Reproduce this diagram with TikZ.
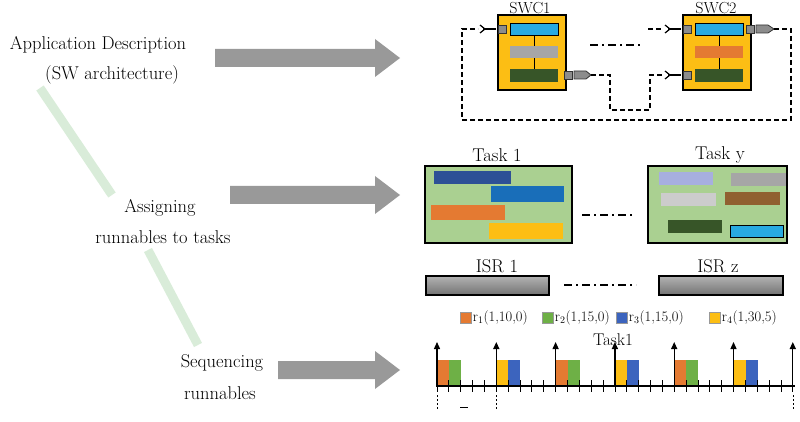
\documentclass[tikz,border=0pt]{standalone}
\usepackage{fontspec}
\setmainfont{Latin Modern Roman}
\usetikzlibrary{arrows.meta}
\definecolor{tgreen}{RGB}{170,208,145}
\definecolor{cor}{RGB}{228,122,50}
\definecolor{cgr}{RGB}{110,176,70}
\definecolor{cbl}{RGB}{60,100,190}
\definecolor{cye}{RGB}{252,190,20}
\definecolor{ccy}{RGB}{40,170,225}
\definecolor{cdg}{RGB}{55,85,40}
\definecolor{cdb}{RGB}{45,80,150}
\definecolor{cmb}{RGB}{25,110,185}
\begin{document}
\begin{tikzpicture}[x=1pt,y=-1pt,
 txt/.style={font=\fontsize{18.5}{20}\selectfont,inner sep=0pt},
 bigarrow/.style={fill=black!40,draw=none},
 dd/.style={line width=1.6pt,dash pattern=on 8pt off 4pt on 2pt off 4pt},
 wire/.style={line width=1.3pt,dash pattern=on 5pt off 3pt},
 port/.style={draw=black!80,fill=black!45,line width=0.8pt,minimum size=8pt,inner sep=0pt},
 lg/.style={minimum size=11pt,inner sep=0pt,draw=black!40},
 tl/.style={font=\fontsize{14.5}{16}\selectfont,inner sep=1pt,anchor=west}]
\useasboundingbox (0,0) rectangle (800,422);
% green diagonal
\draw[green!50!black,opacity=0.15,line width=9pt] (40,88) -- (112,195);
\draw[green!50!black,opacity=0.15,line width=9pt] (148,250) -- (198,345);
% text
\node[txt] (t1) at (98,45) {Application Description};
\node[txt] (t2) at (112,75) {(SW architecture)};
\node[txt] (t3) at (160,208) {Assigning};
\node[txt] (t4) at (163,237) {runnables to tasks};
\node[txt] (t5) at (222,363) {Sequencing};
\node[txt] (t6) at (220,393) {runnables};
% big arrows
\foreach \xa/\ya in {215/58,230/195,278/370}{
 \fill[bigarrow] (\xa,\ya-9) -- (375,\ya-9) -- (375,\ya-19) -- (400,\ya) -- (375,\ya+19) -- (375,\ya+9) -- (\xa,\ya+9) -- cycle;}
% ---------- SWCs
\node[txt,font=\fontsize{16}{17}\selectfont] (s1) at (530,8) {SWC1};
\node[txt,font=\fontsize{16}{17}\selectfont] (s2) at (716,8) {SWC2};
\foreach \ox/\mid in {498/black!35,683/cor}{
 \draw[line width=1.2pt,fill=cye] (\ox,15) rectangle (\ox+68,90);
 \draw[line width=0.8pt] (\ox+36,29) -- (\ox+36,75);
 \fill[ccy, draw=black,line width=0.8pt] (\ox+12,23) rectangle (\ox+60,35);
 \fill[\mid] (\ox+12,46) rectangle (\ox+60,58);
 \fill[cdg] (\ox+12,69) rectangle (\ox+60,82);
}
\node[port] (p1) at (502,29) {};
\node[port] (p2) at (568,75) {};
\node[port] (p3) at (687,29) {};
\node[port] (p4) at (687,75) {};
\node[port] (p5) at (750,29) {};
\draw[fill=black!45,draw=black!80,line width=0.8pt] (574,71) -- (586,71) -- (591,75) -- (586,79) -- (574,79) -- cycle;
\draw[fill=black!45,draw=black!80,line width=0.8pt] (756,25) -- (768,25) -- (774,29) -- (768,33) -- (756,33) -- cycle;
\coordinate (o1) at (591,75);
\coordinate (o2) at (774,29);
% chevrons
\foreach \cx/\cy in {480/29,665/29,665/75}{
 \draw[line width=1.2pt] (\cx,\cy-4) -- (\cx+5,\cy) -- (\cx,\cy+4);
 \draw[line width=1.2pt] (\cx+3,\cy) -- (\cx+16,\cy);}
\draw[wire] (o1) -- (610,75) -- (610,110) -- (650,110) -- (650,75) -- (663,75);
\draw[wire] (o2) -- (791,29) -- (791,120) -- (462,120) -- (462,29) -- (478,29);
\draw[wire] (648,29) -- (663,29);
\draw[dd] (590,45) -- (640,45);
% ---------- tasks
\node[txt] (tk1) at (497,155) {Task 1};
\node[txt] (tky) at (720,155) {Task y};
\draw[line width=1.2pt,fill=tgreen] (425,166) rectangle (572,243);
\fill[cdb] (434,171) rectangle (511,184);
\fill[cmb] (491,186) rectangle (564,202);
\fill[cor] (431,205) rectangle (505,220);
\fill[cye] (489,223) rectangle (563,239);
\draw[line width=1.2pt,fill=tgreen] (648,166) rectangle (787,243);
\fill[cyan!30!blue!35] (659,172) rectangle (713,185);
\fill[black!35] (731,173) rectangle (786,186);
\fill[black!20] (661,193) rectangle (716,206);
\fill[brown!75!black] (725,192) rectangle (780,205);
\fill[cdg] (668,220) rectangle (722,233);
\draw[fill=ccy,line width=1pt] (730,225) rectangle (783,237);
\draw[dd] (582,215) -- (632,215);
% ISR
\node[txt] (i1) at (497,266) {ISR 1};
\node[txt] (iz) at (718,266) {ISR z};
\draw[line width=1.2pt,top color=black!30,bottom color=black!55] (426,276) rectangle (549,295);
\draw[line width=1.2pt,top color=black!30,bottom color=black!55] (659,276) rectangle (783,295);
\draw[dd] (564,285) -- (636,285);
% legend
\node[lg,fill=cor] (l1) at (466,318) {};
\node[tl] at (l1.east) {r$_1$(1,10,0)};
\node[lg,fill=cgr] (l2) at (548,318) {};
\node[tl] at (l2.east) {r$_2$(1,15,0)};
\node[lg,fill=cbl] (l3) at (622,318) {};
\node[tl] at (l3.east) {r$_3$(1,15,0)};
\node[lg,fill=cye] (l4) at (715,318) {};
\node[tl] at (l4.east) {r$_4$(1,30,5)};
\node[txt,font=\fontsize{17}{18}\selectfont] (tk) at (613,340) {Task1};
% timeline
\foreach \i in {0,...,5}{
 \pgfmathsetmacro{\xs}{437+59.3*\i}
 \ifodd\i
  \fill[cye] (\xs,360) rectangle (\xs+12,386);
  \fill[cbl] (\xs+12,360) rectangle (\xs+24,386);
 \else
  \fill[cor] (\xs,360) rectangle (\xs+12,386);
  \fill[cgr] (\xs+12,360) rectangle (\xs+24,386);
 \fi
}
\foreach \k in {0,...,30}{\draw[line width=0.8pt] (437+11.86*\k,380) -- (437+11.86*\k,392);}
\foreach \i in {0,...,6}{\draw[line width=1.3pt,-{Triangle[length=7pt,width=6pt]}] (437+59.3*\i,386) -- (437+59.3*\i,342);}
\draw[line width=1.4pt] (436,386) -- (795,386);
\foreach \xx in {437,496.3,793}{\draw[line width=0.8pt,dash pattern=on 2pt off 2pt] (\xx,395) -- (\xx,410);}
\draw[line width=0.8pt] (460,407) -- (468,407);
\end{tikzpicture}
\end{document}
